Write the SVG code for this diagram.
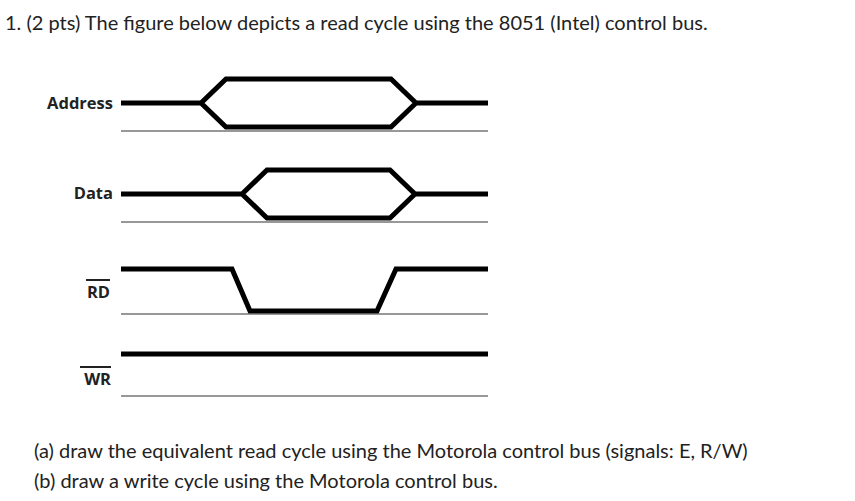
<svg xmlns="http://www.w3.org/2000/svg" width="855" height="501" viewBox="0 0 855 501">
<style>
.t{font-family:Lato,"Liberation Sans",sans-serif;font-size:20px;fill:#222}
.l{font-family:"Open Sans","Liberation Sans",sans-serif;font-size:16.5px;font-weight:bold;fill:#222;text-anchor:end}
.s{fill:none;stroke:#000;stroke-width:5;stroke-linejoin:miter}
.b{stroke:#333;stroke-width:1.2}
</style>
<rect width="855" height="501" fill="#fff"/>
<text class="t" x="5" y="30">1. (2 pts) The figure below depicts a read cycle using the 8051 (Intel) control bus.</text>
<g id="address"><text class="l" x="113" y="109">Address</text>
<path class="s" d="M121 103H201L226 79H391L416 103H488M201 103L226 127H391L416 103"/>
<line class="b" x1="121" y1="131" x2="488" y2="131"/></g>
<g id="data"><text class="l" x="113" y="199">Data</text>
<path class="s" d="M121 194H242L267 170H390L415 194H488M242 194L267 218H390L415 194"/>
<line class="b" x1="121" y1="222" x2="488" y2="222"/></g>
<g id="rd"><text class="l" x="110" y="298">RD</text><line x1="86" y1="280" x2="110" y2="280" stroke="#222" stroke-width="2"/>
<path class="s" d="M121 269H232L250 311H377L396 269H488"/>
<line class="b" x1="121" y1="314" x2="488" y2="314"/></g>
<g id="wr"><text class="l" x="111" y="385">WR</text><line x1="80" y1="367" x2="111" y2="367" stroke="#222" stroke-width="2"/>
<path class="s" d="M121 354H488"/>
<line class="b" x1="121" y1="396" x2="488" y2="396"/></g>
<text class="t" x="34" y="458">(a) draw the equivalent read cycle using the Motorola control bus (signals: E, R/W)</text>
<text class="t" x="34" y="488">(b) draw a write cycle using the Motorola control bus.</text>
</svg>
